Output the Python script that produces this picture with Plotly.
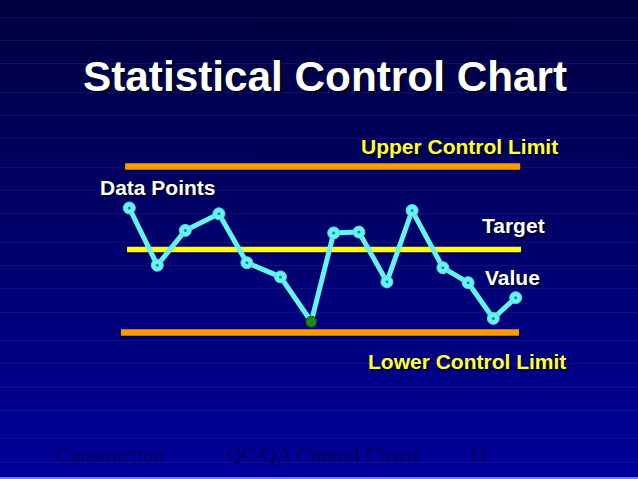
import base64
import plotly.graph_objects as go

# ---- data -------------------------------------------------------------
sample_x = [1.0, 2.0, 3.0, 4.2, 5.2, 6.4, 7.5, 8.3, 9.2, 10.2, 11.1, 12.2, 13.1, 14.0, 14.8]
sample_y = [55.0, 48.1, 52.3, 54.3, 48.4, 46.7, 41.3, 52.0, 52.1, 46.1, 54.7, 47.8, 46.0, 41.7, 44.2]
out_of_pattern_index = 6          # the low (green) point
upper_limit = 60.0
target_value = 50.0
lower_limit = 40.0
ucl_span = [0.85, 14.96]
target_span = [0.92, 14.99]
lcl_span = [0.70, 14.92]

title_text = "Statistical Control Chart"
footer_texts = ["Construction", "QC/QA Control Charts", "11"]

# ---- geometry (figure in pixels) ---------------------------------------
W, H = 638, 479
X_RANGE = [-3.618, 19.168]
Y_RANGE = [22.35, 80.06]
px_per_y = H / (Y_RANGE[1] - Y_RANGE[0])

# ---- background (gradient + faint banding lines) ----------------------
band_rows = [17, 40, 63, 92, 115, 138, 167, 190, 213, 242, 265, 288, 312, 340, 363, 387, 410, 438, 462]
lines_svg = "".join(
    f"<rect x='0' y='{r}' width='{W}' height='1' fill='#3a3aa8' fill-opacity='0.25'/>" for r in band_rows
)
svg = (
    f"<svg xmlns='http://www.w3.org/2000/svg' width='{W}' height='{H}' viewBox='0 0 {W} {H}' preserveAspectRatio='none'>"
    "<defs><linearGradient id='g' x1='0' y1='0' x2='0' y2='1'>"
    "<stop offset='0' stop-color='#000040'/>"
    "<stop offset='0.5' stop-color='#00006c'/>"
    "<stop offset='1' stop-color='#00009c'/>"
    "</linearGradient></defs>"
    f"<rect width='{W}' height='{H}' fill='url(#g)'/>"
    + lines_svg +
    f"<rect x='0' y='{H-2}' width='{W}' height='2' fill='#7a7aff'/>"
    "</svg>"
)
bg_src = "data:image/svg+xml;base64," + base64.b64encode(svg.encode()).decode()

fig = go.Figure()

shadow_dy = 2.0 / px_per_y


def hline(span, value, color, width, name):
    # shadow
    fig.add_trace(go.Scatter(x=span, y=[value - shadow_dy] * 2, mode="lines",
                             line=dict(color="rgba(0,0,20,0.85)", width=width),
                             hoverinfo="skip", showlegend=False))
    fig.add_trace(go.Scatter(x=span, y=[value] * 2, mode="lines",
                             line=dict(color=color, width=width), name=name,
                             hoverinfo="skip", showlegend=False))


hline(ucl_span, upper_limit, "#ff9a00", 6.5, "UCL")
hline(target_span, target_value, "#ffff00", 5.5, "Target")
hline(lcl_span, lower_limit, "#ff9a00", 6.5, "LCL")

cyan = "#64f4f4"
fig.add_trace(go.Scatter(x=sample_x, y=sample_y, mode="lines",
                         line=dict(color=cyan, width=5), showlegend=False, hoverinfo="skip"))

normal_x = [x for i, x in enumerate(sample_x) if i != out_of_pattern_index]
normal_y = [y for i, y in enumerate(sample_y) if i != out_of_pattern_index]
fig.add_trace(go.Scatter(x=normal_x, y=normal_y, mode="markers",
                         marker=dict(size=12, color=cyan, line=dict(color="#4cdede", width=1)),
                         showlegend=False, hoverinfo="skip"))
fig.add_trace(go.Scatter(x=normal_x, y=normal_y, mode="markers",
                         marker=dict(size=3, color="#2a8088"),
                         showlegend=False, hoverinfo="skip"))
fig.add_trace(go.Scatter(x=[sample_x[out_of_pattern_index]], y=[sample_y[out_of_pattern_index]],
                         mode="markers",
                         marker=dict(size=11, color="#1a8a1a", line=dict(color="#0a4a0a", width=1)),
                         showlegend=False, hoverinfo="skip"))


def px_ann(text, x, y, size, color, family="Liberation Sans", bold=True, xanchor="center",
           shadow="2px 2px 2px rgba(0,0,0,0.7)"):
    fig.add_annotation(text=text, xref="paper", yref="paper", x=x / W, y=1 - y / H,
                       xanchor=xanchor, yanchor="middle", showarrow=False,
                       font=dict(family=family, size=size, color=color,
                                 weight="bold" if bold else "normal", shadow=shadow))


px_ann(title_text, 325, 76, 42.3, "#ffffff")
px_ann("Upper Control Limit", 459, 146, 21, "#ffff33")
px_ann("Data Points", 158, 187, 21, "#ffffff")
px_ann("Target", 513, 225, 21, "#ffffff")
px_ann("Value", 512, 277, 21, "#ffffff")
px_ann("Lower Control Limit", 467, 361, 21, "#ffff33")

footer_x = [54, 225, 467]
for t, fx in zip(footer_texts, footer_x):
    px_ann(t, fx, 455, 21, "#00005a", family="Liberation Serif", bold=False, xanchor="left",
           shadow="none")

fig.update_layout(
    width=W, height=H,
    margin=dict(l=0, r=0, t=0, b=0),
    paper_bgcolor="#00006c",
    plot_bgcolor="rgba(0,0,0,0)",
    showlegend=False,
    xaxis=dict(range=X_RANGE, visible=False, fixedrange=True),
    yaxis=dict(range=Y_RANGE, visible=False, fixedrange=True),
    images=[dict(source=bg_src, xref="paper", yref="paper", x=0, y=1, sizex=1, sizey=1,
                 xanchor="left", yanchor="top", sizing="stretch", layer="below")],
)

fig.write_html("out.html", config={"displayModeBar": False},
               post_script="document.body.style.margin='0';document.body.style.overflow='hidden';")
